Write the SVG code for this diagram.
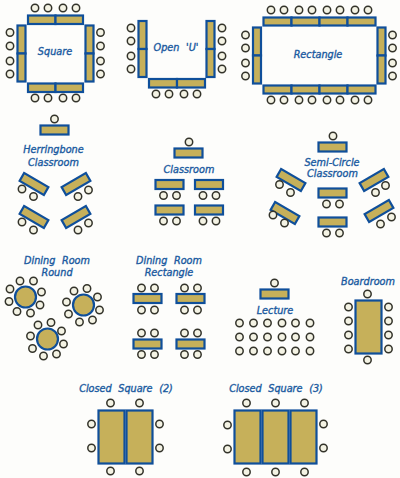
<svg xmlns="http://www.w3.org/2000/svg" width="400" height="478" viewBox="0 0 400 478">
<style>
.s{fill:#f4f3e4;stroke:#33332a;stroke-width:1.5;r:3.7px}
.t{fill:#c6b05a;stroke:#0f4f9a;stroke-width:2.2}
.l{fill:#1a5aa0;font-family:"DejaVu Sans",sans-serif;font-style:italic;font-weight:400;font-size:9.7px;word-spacing:3.5px;text-anchor:middle;stroke:#1a5aa0;stroke-width:.35}
</style>
<rect width="400" height="478" fill="#fdfdfb"/>
<g id="square">
<rect class="t" x="28" y="15.500" width="27.500" height="8.500"/><rect class="t" x="55.500" y="15.500" width="27.500" height="8.500"/>
<rect class="t" x="28" y="83.500" width="27.500" height="8.500"/><rect class="t" x="55.500" y="83.500" width="27.500" height="8.500"/>
<rect class="t" x="17.500" y="25.500" width="8" height="28"/><rect class="t" x="17.500" y="53.500" width="8" height="28"/>
<rect class="t" x="85.500" y="25.500" width="8" height="28"/><rect class="t" x="85.500" y="53.500" width="8" height="28"/>
<circle class="s" cx="35" cy="8" r="3.500"/><circle class="s" cx="48" cy="8" r="3.500"/><circle class="s" cx="63" cy="8" r="3.500"/><circle class="s" cx="76" cy="8" r="3.500"/>
<circle class="s" cx="35" cy="98" r="3.500"/><circle class="s" cx="48" cy="98" r="3.500"/><circle class="s" cx="63" cy="98" r="3.500"/><circle class="s" cx="76" cy="98" r="3.500"/>
<circle class="s" cx="10" cy="32.500" r="3.500"/><circle class="s" cx="10" cy="46" r="3.500"/><circle class="s" cx="10" cy="61" r="3.500"/><circle class="s" cx="10" cy="74" r="3.500"/>
<circle class="s" cx="100.500" cy="32.500" r="3.500"/><circle class="s" cx="100.500" cy="46" r="3.500"/><circle class="s" cx="100.500" cy="61" r="3.500"/><circle class="s" cx="100.500" cy="74" r="3.500"/>
<text class="l" x="55" y="55">Square</text>
</g>
<g id="open-u">
<rect class="t" x="138.500" y="21" width="8" height="28"/><rect class="t" x="138.500" y="49" width="8" height="28"/>
<rect class="t" x="206.500" y="21" width="8" height="28"/><rect class="t" x="206.500" y="49" width="8" height="28"/>
<rect class="t" x="149" y="79" width="28" height="8.500"/><rect class="t" x="177" y="79" width="28" height="8.500"/>
<circle class="s" cx="131" cy="28" r="3.500"/><circle class="s" cx="131" cy="41" r="3.500"/><circle class="s" cx="131" cy="56" r="3.500"/><circle class="s" cx="131" cy="69" r="3.500"/>
<circle class="s" cx="222" cy="28" r="3.500"/><circle class="s" cx="222" cy="41" r="3.500"/><circle class="s" cx="222" cy="56" r="3.500"/><circle class="s" cx="222" cy="69" r="3.500"/>
<circle class="s" cx="156" cy="94" r="3.500"/><circle class="s" cx="169" cy="94" r="3.500"/><circle class="s" cx="184" cy="94" r="3.500"/><circle class="s" cx="197" cy="94" r="3.500"/>
<text class="l" x="176" y="51">Open 'U'</text>
</g>
<g id="rectangle">
<rect class="t" x="263.500" y="17.500" width="28" height="8"/><rect class="t" x="291.500" y="17.500" width="28" height="8"/><rect class="t" x="319.500" y="17.500" width="28" height="8"/><rect class="t" x="347.500" y="17.500" width="28" height="8"/>
<rect class="t" x="263.500" y="85.500" width="28" height="8"/><rect class="t" x="291.500" y="85.500" width="28" height="8"/><rect class="t" x="319.500" y="85.500" width="28" height="8"/><rect class="t" x="347.500" y="85.500" width="28" height="8"/>
<rect class="t" x="253" y="27.500" width="8" height="28"/><rect class="t" x="253" y="55.500" width="8" height="28"/>
<rect class="t" x="377.500" y="27.500" width="8" height="28"/><rect class="t" x="377.500" y="55.500" width="8" height="28"/>
<circle class="s" cx="271" cy="10" r="3.500"/><circle class="s" cx="284" cy="10" r="3.500"/><circle class="s" cx="299" cy="10" r="3.500"/><circle class="s" cx="312" cy="10" r="3.500"/><circle class="s" cx="327" cy="10" r="3.500"/><circle class="s" cx="340" cy="10" r="3.500"/><circle class="s" cx="355" cy="10" r="3.500"/><circle class="s" cx="368" cy="10" r="3.500"/>
<circle class="s" cx="271" cy="100" r="3.500"/><circle class="s" cx="284" cy="100" r="3.500"/><circle class="s" cx="299" cy="100" r="3.500"/><circle class="s" cx="312" cy="100" r="3.500"/><circle class="s" cx="327" cy="100" r="3.500"/><circle class="s" cx="340" cy="100" r="3.500"/><circle class="s" cx="355" cy="100" r="3.500"/><circle class="s" cx="368" cy="100" r="3.500"/>
<circle class="s" cx="245.500" cy="35" r="3.500"/><circle class="s" cx="245.500" cy="48" r="3.500"/><circle class="s" cx="245.500" cy="63" r="3.500"/><circle class="s" cx="245.500" cy="76" r="3.500"/>
<circle class="s" cx="392.500" cy="35" r="3.500"/><circle class="s" cx="392.500" cy="48" r="3.500"/><circle class="s" cx="392.500" cy="63" r="3.500"/><circle class="s" cx="392.500" cy="76" r="3.500"/>
<text class="l" x="318" y="58">Rectangle</text>
</g>
<g id="herringbone">
<rect class="t" x="40.500" y="125.500" width="28" height="9"/>
<circle class="s" cx="54.500" cy="119" r="3.500"/>
<rect class="t" x="-14" y="-4.500" width="28" height="9" transform="translate(34,184) rotate(30)"/>
<rect class="t" x="-14" y="-4.500" width="28" height="9" transform="translate(76,184) rotate(-30)"/>
<rect class="t" x="-14" y="-4.500" width="28" height="9" transform="translate(34,217) rotate(30)"/>
<rect class="t" x="-14" y="-4.500" width="28" height="9" transform="translate(76,217) rotate(-30)"/>
<circle class="s" cx="22" cy="189" r="3.500"/><circle class="s" cx="33.500" cy="196.500" r="3.500"/><circle class="s" cx="78" cy="196.500" r="3.500"/><circle class="s" cx="88.500" cy="190" r="3.500"/>
<circle class="s" cx="22" cy="222" r="3.500"/><circle class="s" cx="33.500" cy="230" r="3.500"/><circle class="s" cx="78" cy="230" r="3.500"/><circle class="s" cx="88.500" cy="223" r="3.500"/>
<text class="l" x="53.500" y="152.500">Herringbone</text><text class="l" x="53.500" y="165.500">Classroom</text>
</g>
<g id="classroom">
<rect class="t" x="174.500" y="148.500" width="28" height="9"/>
<rect class="t" x="155.500" y="180" width="28" height="9"/><rect class="t" x="195" y="180" width="28" height="9"/>
<rect class="t" x="155.500" y="205.500" width="28" height="9"/><rect class="t" x="195" y="205.500" width="28" height="9"/>
<circle class="s" cx="189" cy="142" r="3.500"/>
<circle class="s" cx="163.500" cy="195.500" r="3.500"/><circle class="s" cx="176.500" cy="195.500" r="3.500"/><circle class="s" cx="203" cy="195.500" r="3.500"/><circle class="s" cx="216" cy="195.500" r="3.500"/>
<circle class="s" cx="163.500" cy="221" r="3.500"/><circle class="s" cx="176.500" cy="221" r="3.500"/><circle class="s" cx="203" cy="221" r="3.500"/><circle class="s" cx="216" cy="221" r="3.500"/>
<text class="l" x="189" y="172.500">Classroom</text>
</g>
<g id="semi-circle">
<rect class="t" x="318.500" y="142.500" width="28" height="9"/>
<rect class="t" x="318.500" y="188.500" width="28" height="9"/>
<rect class="t" x="318.500" y="217.500" width="28" height="9"/>
<rect class="t" x="-14" y="-4.500" width="28" height="9" transform="translate(291,180) rotate(30)"/>
<rect class="t" x="-14" y="-4.500" width="28" height="9" transform="translate(374,180) rotate(-30)"/>
<rect class="t" x="-14" y="-4.500" width="28" height="9" transform="translate(285,213) rotate(30)"/>
<rect class="t" x="-14" y="-4.500" width="28" height="9" transform="translate(379,211) rotate(-30)"/>
<circle class="s" cx="333" cy="136" r="3.500"/>
<circle class="s" cx="326.500" cy="204" r="3.500"/><circle class="s" cx="339.500" cy="204" r="3.500"/><circle class="s" cx="326.500" cy="233" r="3.500"/><circle class="s" cx="339.500" cy="233" r="3.500"/>
<circle class="s" cx="279.500" cy="184.500" r="3.500"/><circle class="s" cx="290.500" cy="192.500" r="3.500"/><circle class="s" cx="375.500" cy="192.500" r="3.500"/><circle class="s" cx="385.500" cy="185.500" r="3.500"/>
<circle class="s" cx="273" cy="215" r="3.500"/><circle class="s" cx="284.500" cy="223" r="3.500"/><circle class="s" cx="380.500" cy="224" r="3.500"/><circle class="s" cx="391.500" cy="217" r="3.500"/>
<text class="l" x="332" y="166">Semi-Circle</text><text class="l" x="332.500" y="176.500">Classroom</text>
</g>
<g id="dining-round">
<circle class="t" cx="25.500" cy="297" r="10.500"/><circle class="t" cx="83.500" cy="305" r="10.500"/><circle class="t" cx="47.500" cy="339" r="10.500"/>
<circle class="s" cx="20" cy="281" r="3.500"/><circle class="s" cx="33.500" cy="281" r="3.500"/><circle class="s" cx="10" cy="289" r="3.500"/><circle class="s" cx="41.500" cy="292" r="3.500"/><circle class="s" cx="9" cy="301.500" r="3.500"/><circle class="s" cx="40" cy="305" r="3.500"/><circle class="s" cx="17" cy="311.500" r="3.500"/><circle class="s" cx="30.500" cy="313" r="3.500"/>
<circle class="s" cx="74" cy="291" r="3.500"/><circle class="s" cx="87" cy="288.500" r="3.500"/><circle class="s" cx="97.500" cy="297" r="3.500"/><circle class="s" cx="66.500" cy="302" r="3.500"/><circle class="s" cx="99.500" cy="310" r="3.500"/><circle class="s" cx="68.500" cy="314" r="3.500"/><circle class="s" cx="92.500" cy="320" r="3.500"/><circle class="s" cx="79.500" cy="322" r="3.500"/>
<circle class="s" cx="38" cy="325" r="3.500"/><circle class="s" cx="51" cy="322.500" r="3.500"/><circle class="s" cx="61.500" cy="331" r="3.500"/><circle class="s" cx="30.500" cy="336" r="3.500"/><circle class="s" cx="63.500" cy="344" r="3.500"/><circle class="s" cx="32.500" cy="348.500" r="3.500"/><circle class="s" cx="56.500" cy="354" r="3.500"/><circle class="s" cx="43.500" cy="356" r="3.500"/>
<text class="l" x="57" y="264">Dining Room</text><text class="l" x="57" y="276">Round</text>
</g>
<g id="dining-rectangle">
<rect class="t" x="133.500" y="294" width="28" height="9"/><rect class="t" x="176.500" y="294" width="28" height="9"/>
<rect class="t" x="133.500" y="339.500" width="28" height="9"/><rect class="t" x="176.500" y="339.500" width="28" height="9"/>
<circle class="s" cx="141.500" cy="288" r="3.500"/><circle class="s" cx="154.500" cy="288" r="3.500"/><circle class="s" cx="184.500" cy="288" r="3.500"/><circle class="s" cx="197.500" cy="288" r="3.500"/>
<circle class="s" cx="141.500" cy="310" r="3.500"/><circle class="s" cx="154.500" cy="310" r="3.500"/><circle class="s" cx="184.500" cy="310" r="3.500"/><circle class="s" cx="197.500" cy="310" r="3.500"/>
<circle class="s" cx="141.500" cy="333" r="3.500"/><circle class="s" cx="154.500" cy="333" r="3.500"/><circle class="s" cx="184.500" cy="333" r="3.500"/><circle class="s" cx="197.500" cy="333" r="3.500"/>
<circle class="s" cx="141.500" cy="354.500" r="3.500"/><circle class="s" cx="154.500" cy="354.500" r="3.500"/><circle class="s" cx="184.500" cy="354.500" r="3.500"/><circle class="s" cx="197.500" cy="354.500" r="3.500"/>
<text class="l" x="169" y="264">Dining Room</text><text class="l" x="169" y="276">Rectangle</text>
</g>
<g id="lecture">
<rect class="t" x="260.500" y="289.500" width="28" height="9"/>
<circle class="s" cx="274.500" cy="283" r="3.500"/>
<circle class="s" cx="239.500" cy="323" r="3.500"/><circle class="s" cx="253.500" cy="323" r="3.500"/><circle class="s" cx="267.500" cy="323" r="3.500"/><circle class="s" cx="282" cy="323" r="3.500"/><circle class="s" cx="295.500" cy="323" r="3.500"/><circle class="s" cx="310" cy="323" r="3.500"/>
<circle class="s" cx="239.500" cy="337" r="3.500"/><circle class="s" cx="253.500" cy="337" r="3.500"/><circle class="s" cx="267.500" cy="337" r="3.500"/><circle class="s" cx="282" cy="337" r="3.500"/><circle class="s" cx="295.500" cy="337" r="3.500"/><circle class="s" cx="310" cy="337" r="3.500"/>
<circle class="s" cx="239.500" cy="351" r="3.500"/><circle class="s" cx="253.500" cy="351" r="3.500"/><circle class="s" cx="267.500" cy="351" r="3.500"/><circle class="s" cx="282" cy="351" r="3.500"/><circle class="s" cx="295.500" cy="351" r="3.500"/><circle class="s" cx="310" cy="351" r="3.500"/>
<text class="l" x="275" y="313.500">Lecture</text>
</g>
<g id="boardroom">
<rect class="t" x="355.500" y="300.500" width="26" height="53"/>
<circle class="s" cx="367.500" cy="294" r="3.500"/><circle class="s" cx="367.500" cy="360" r="3.500"/>
<circle class="s" cx="348.500" cy="307" r="3.500"/><circle class="s" cx="348.500" cy="321" r="3.500"/><circle class="s" cx="348.500" cy="335" r="3.500"/><circle class="s" cx="348.500" cy="349" r="3.500"/>
<circle class="s" cx="388.500" cy="307" r="3.500"/><circle class="s" cx="388.500" cy="321" r="3.500"/><circle class="s" cx="388.500" cy="335" r="3.500"/><circle class="s" cx="388.500" cy="349" r="3.500"/>
<text class="l" x="368" y="284.500">Boardroom</text>
</g>
<g id="closed-square-2">
<rect class="t" x="98.500" y="410.500" width="26" height="53"/><rect class="t" x="126.500" y="410.500" width="26" height="53"/>
<circle class="s" cx="110.500" cy="403" r="3.500"/><circle class="s" cx="139.500" cy="403" r="3.500"/><circle class="s" cx="110.500" cy="471" r="3.500"/><circle class="s" cx="139.500" cy="471" r="3.500"/>
<circle class="s" cx="91.500" cy="424" r="3.500"/><circle class="s" cx="91.500" cy="448" r="3.500"/><circle class="s" cx="159.500" cy="424" r="3.500"/><circle class="s" cx="159.500" cy="448" r="3.500"/>
<text class="l" x="126" y="391.500">Closed Square (2)</text>
</g>
<g id="closed-square-3">
<rect class="t" x="234.500" y="410.500" width="26" height="53"/><rect class="t" x="262.500" y="410.500" width="26" height="53"/><rect class="t" x="290.500" y="410.500" width="26" height="53"/>
<circle class="s" cx="246.500" cy="403" r="3.500"/><circle class="s" cx="275.500" cy="403" r="3.500"/><circle class="s" cx="304.500" cy="403" r="3.500"/><circle class="s" cx="246.500" cy="472" r="3.500"/><circle class="s" cx="275.500" cy="472" r="3.500"/><circle class="s" cx="304.500" cy="472" r="3.500"/>
<circle class="s" cx="227.500" cy="425" r="3.500"/><circle class="s" cx="227.500" cy="449" r="3.500"/><circle class="s" cx="323.500" cy="424" r="3.500"/><circle class="s" cx="323.500" cy="448" r="3.500"/>
<text class="l" x="276" y="391.500">Closed Square (3)</text>
</g>
</svg>
